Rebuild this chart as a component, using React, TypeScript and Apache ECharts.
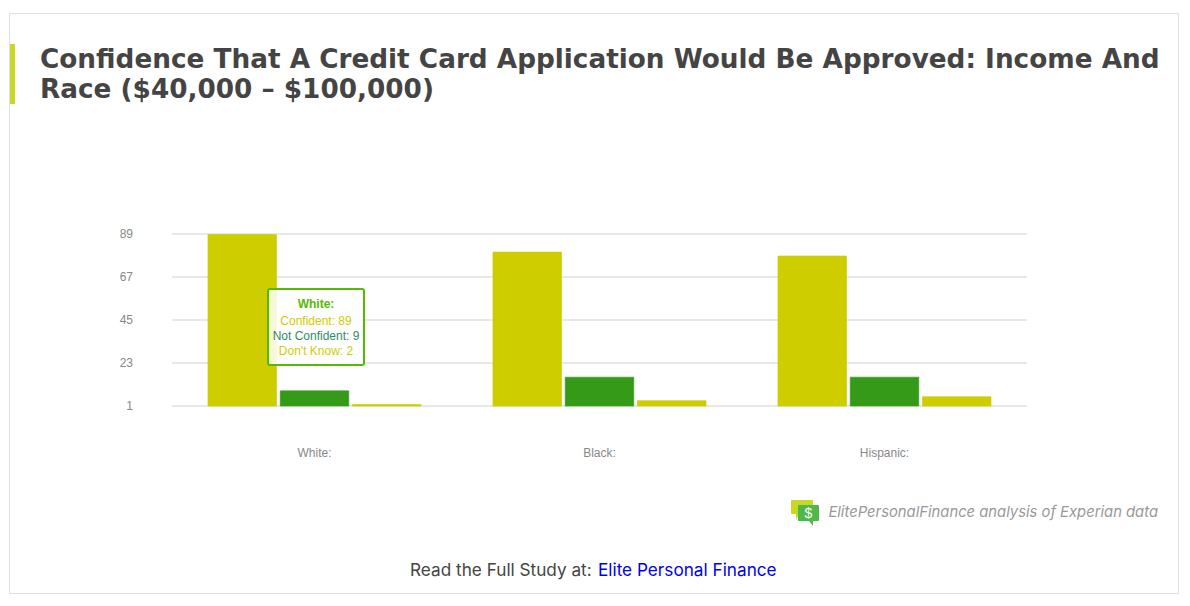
import React, { useEffect, useRef } from "react";
import * as echarts from "echarts";

const categories = ["White:", "Black:", "Hispanic:"];
const confident = [89, 80, 78];
const notConfident = [9, 16, 16];
const dontKnow = [2, 4, 6];
const yTicks = [1, 23, 45, 67, 89];
const titleLines = [
  "Confidence That A Credit Card Application Would Be Approved: Income And",
  "Race ($40,000 – $100,000)",
];
const sourceText = "ElitePersonalFinance analysis of Experian data";
const footerLead = "Read the Full Study at:";
const footerLink = "Elite Personal Finance";
const tooltipTitle = "White:";
const tooltipRows = ["Confident: 89", "Not Confident: 9", "Don't Know: 2"];

const YELLOW = "#cecd00";
const GREEN = "#369a19";
const UI = "'Liberation Sans', Arial, sans-serif";
const HEAD = "Inter, 'Noto Sans', sans-serif";
const TITLE = "'DejaVu Sans', Inter, sans-serif";

echarts.graphic.registerShape(
  "bubbleBack",
  echarts.graphic.extendPath(
    "M1 0H21Q22 0 22 1V13Q22 14 21 14H8L5 20V14H1Q0 14 0 13V1Q0 0 1 0Z",
    {}
  )
);
echarts.graphic.registerShape(
  "bubbleFront",
  echarts.graphic.extendPath(
    "M1 0H20Q21 0 21 1V15Q21 16 20 16H15V21L11 16H1Q0 16 0 15V1Q0 0 1 0Z",
    {}
  )
);

export default function App() {
  const ref = useRef<HTMLDivElement>(null);
  useEffect(() => {
    document.body.style.margin = "0";
    document.body.style.background = "#fff";
    const chart = echarts.init(ref.current!, undefined, { renderer: "svg" });
    const bar = (name: string, data: number[], color: string, edge: string) => ({
      name,
      type: "bar",
      data,
      barWidth: 69.5,
      barGap: "4%",
      itemStyle: { color, borderColor: edge, borderWidth: 1 },
    });
    chart.setOption({
      animation: false,
      backgroundColor: "#fff",
      grid: { left: 172, right: 163, top: 234, bottom: 200, containLabel: false },
      xAxis: {
        type: "category",
        data: categories,
        axisLine: { show: false },
        axisTick: { show: false },
        axisLabel: { color: "#888", fontFamily: UI, fontSize: 12, margin: 41 },
      },
      yAxis: {
        type: "value",
        min: yTicks[0],
        max: yTicks[yTicks.length - 1],
        axisLine: { show: false },
        axisTick: { show: false, customValues: yTicks },
        axisLabel: {
          customValues: yTicks,
          color: "#888",
          fontFamily: UI,
          fontSize: 12,
          margin: 39,
          align: "right",
        },
        splitLine: { show: true, lineStyle: { color: "#e8e8e8", width: 2 } },
      },
      series: [
        bar("Confident", confident, YELLOW, "rgba(206,205,0,0.65)"),
        bar("Not Confident", notConfident, GREEN, "rgba(54,154,25,0.65)"),
        bar("Don't Know", dontKnow, YELLOW, "rgba(206,205,0,0.65)"),
      ],
      graphic: [
        {
          type: "rect",
          silent: true,
          z: -1,
          shape: { x: 9.5, y: 13.5, width: 1169, height: 580 },
          style: { fill: "#fff", stroke: "#e0e0e0", lineWidth: 1 },
        },
        { type: "rect", shape: { x: 10, y: 44, width: 5, height: 60 }, style: { fill: "#c8d827" } },
        ...titleLines.map((text, i) => ({
          type: "text",
          x: 40,
          y: 59 + i * 30,
          style: {
            text,
            fill: "#444",
            fontFamily: TITLE,
            fontWeight: 700,
            fontSize: 26.3,
            textAlign: "left",
            textVerticalAlign: "middle",
          },
        })),
        {
          type: "rect",
          z: 50,
          shape: { x: 268, y: 289, width: 96, height: 76, r: 2 },
          style: { fill: "rgba(255,255,255,0.85)", stroke: "#55bb00", lineWidth: 2 },
        },
        {
          type: "text",
          z: 51,
          x: 316,
          y: 304,
          style: {
            text: tooltipTitle,
            fill: "#55bb00",
            fontFamily: UI,
            fontWeight: 700,
            fontSize: 12,
            textAlign: "center",
            textVerticalAlign: "middle",
          },
        },
        ...tooltipRows.map((text, i) => ({
          type: "text",
          z: 51,
          x: 316,
          y: 320.5 + i * 15,
          style: {
            text,
            fill: i === 1 ? "#2e8b6a" : YELLOW,
            fontFamily: UI,
            fontSize: 12,
            textAlign: "center",
            textVerticalAlign: "middle",
          },
        })),
        { type: "bubbleBack", x: 791, y: 500, style: { fill: "#c8d827" } },
        { type: "bubbleFront", x: 798, y: 505, style: { fill: "#4fb848" } },
        {
          type: "text",
          x: 808.5,
          y: 513,
          style: {
            text: "$",
            fill: "#fff",
            fontFamily: UI,
            fontSize: 14,
            textAlign: "center",
            textVerticalAlign: "middle",
          },
        },
        {
          type: "text",
          x: 1158,
          y: 512,
          style: {
            text: sourceText,
            fill: "#999",
            fontFamily: HEAD,
            fontStyle: "italic",
            fontSize: 14.8,
            textAlign: "right",
            textVerticalAlign: "middle",
          },
        },
        {
          type: "text",
          x: 410,
          y: 569,
          style: {
            text: footerLead,
            fill: "#444",
            fontFamily: HEAD,
            fontSize: 17.2,
            textAlign: "left",
            textVerticalAlign: "middle",
          },
        },
        {
          type: "text",
          x: 598,
          y: 569,
          style: {
            text: footerLink,
            fill: "#0000ee",
            fontFamily: HEAD,
            fontSize: 17.2,
            textAlign: "left",
            textVerticalAlign: "middle",
          },
        },
      ],
    });
    return () => chart.dispose();
  }, []);
  return (
    <div
      ref={ref}
      style={{ position: "absolute", left: 0, top: 0, width: 1190, height: 606 }}
    />
  );
}
